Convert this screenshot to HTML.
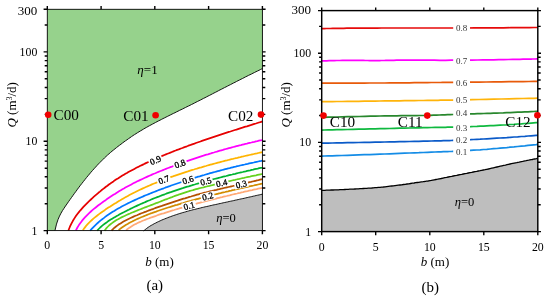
<!DOCTYPE html><html><head><meta charset="utf-8"><style>html,body{margin:0;padding:0;background:#fff}svg{display:block}</style></head><body><svg width="550" height="299" viewBox="0 0 550 299" font-family="'Liberation Serif', serif">
<rect width="550" height="299" fill="#fff"/>
<path d="M55.0 230.4 L56.5 224.1 L58.0 219.6 L59.5 216.1 L61.0 213.2 L62.5 210.6 L64.0 208.3 L65.5 206.0 L67.0 203.9 L68.5 201.7 L70.0 199.6 L71.5 197.5 L73.0 195.4 L74.5 193.3 L76.0 191.3 L77.5 189.2 L79.0 187.2 L80.5 185.2 L82.0 183.3 L83.5 181.4 L85.0 179.5 L86.5 177.6 L88.0 175.8 L89.5 174.0 L91.0 172.2 L92.5 170.5 L94.0 168.8 L95.5 167.2 L97.0 165.5 L98.5 163.9 L100.0 162.4 L101.5 160.9 L103.0 159.4 L104.5 157.9 L106.0 156.5 L107.5 155.1 L109.0 153.8 L110.5 152.5 L112.0 151.2 L113.5 150.0 L115.0 148.8 L116.5 147.6 L118.0 146.4 L119.5 145.3 L121.0 144.2 L122.5 143.0 L124.0 141.9 L125.5 140.8 L127.0 139.8 L128.5 138.7 L130.0 137.7 L131.5 136.6 L133.0 135.6 L134.5 134.6 L136.0 133.7 L137.5 132.7 L139.0 131.8 L140.5 130.9 L142.0 130.0 L143.5 129.1 L145.0 128.2 L146.5 127.4 L148.0 126.5 L149.5 125.7 L151.0 124.9 L152.5 124.1 L154.0 123.3 L155.5 122.5 L157.0 121.7 L158.5 120.9 L160.0 120.2 L161.5 119.4 L163.0 118.6 L164.5 117.9 L166.0 117.1 L167.5 116.4 L169.0 115.6 L170.5 114.9 L172.0 114.1 L173.5 113.4 L175.0 112.7 L176.5 111.9 L178.0 111.2 L179.5 110.4 L181.0 109.7 L182.5 109.0 L184.0 108.2 L185.5 107.5 L187.0 106.7 L188.5 106.0 L190.0 105.3 L191.5 104.5 L193.0 103.8 L194.5 103.0 L196.0 102.2 L197.5 101.5 L199.0 100.7 L200.5 100.0 L202.0 99.2 L203.5 98.4 L205.0 97.7 L206.5 96.9 L208.0 96.1 L209.5 95.4 L211.0 94.6 L212.5 93.8 L214.0 93.0 L215.5 92.3 L217.0 91.5 L218.5 90.7 L220.0 89.9 L221.5 89.2 L223.0 88.4 L224.5 87.6 L226.0 86.9 L227.5 86.1 L229.0 85.3 L230.5 84.6 L232.0 83.8 L233.5 83.0 L235.0 82.3 L236.5 81.5 L238.0 80.7 L239.5 80.0 L241.0 79.2 L242.5 78.5 L244.0 77.7 L245.5 76.9 L247.0 76.2 L248.5 75.4 L250.0 74.7 L251.5 74.0 L253.0 73.2 L254.5 72.5 L256.0 71.7 L257.5 71.0 L259.0 70.3 L260.5 69.5 L262.0 68.8 L262.4 68.6 L262.4 9.3 L47.3 9.3 L47.3 230.6 Z" fill="#96d28c"/>
<path d="M143.7 230.9 L145.2 229.6 L146.7 228.4 L148.2 227.3 L149.7 226.3 L151.2 225.4 L152.7 224.6 L154.2 223.7 L155.7 223.0 L157.2 222.2 L158.7 221.5 L160.2 220.8 L161.7 220.1 L163.2 219.5 L164.7 218.9 L166.2 218.3 L167.7 217.7 L169.2 217.1 L170.7 216.6 L172.2 216.0 L173.7 215.5 L175.2 215.0 L176.7 214.5 L178.2 214.0 L179.7 213.5 L181.2 213.1 L182.7 212.6 L184.2 212.2 L185.7 211.8 L187.2 211.3 L188.7 210.9 L190.2 210.5 L191.7 210.1 L193.2 209.7 L194.7 209.4 L196.2 209.0 L197.7 208.6 L199.2 208.3 L200.7 207.9 L202.2 207.5 L203.7 207.2 L205.2 206.8 L206.7 206.5 L208.2 206.2 L209.7 205.8 L211.2 205.5 L212.7 205.1 L214.2 204.8 L215.7 204.5 L217.2 204.2 L218.7 203.8 L220.2 203.5 L221.7 203.2 L223.2 202.8 L224.7 202.5 L226.2 202.2 L227.7 201.9 L229.2 201.5 L230.7 201.2 L232.2 200.9 L233.7 200.6 L235.2 200.2 L236.7 199.9 L238.2 199.6 L239.7 199.2 L241.2 198.9 L242.7 198.6 L244.2 198.3 L245.7 197.9 L247.2 197.6 L248.7 197.2 L250.2 196.9 L251.7 196.6 L253.2 196.2 L254.7 195.9 L256.2 195.5 L257.7 195.2 L259.2 194.9 L260.7 194.5 L262.2 194.2 L262.5 194.1 L262.4 230.6 Z" fill="#bebebe"/>
<path d="M68.4 230.5 L69.9 226.7 L71.4 223.6 L72.9 220.8 L74.4 218.4 L75.9 216.1 L77.4 214.0 L78.9 212.1 L80.4 210.3 L81.9 208.6 L83.4 206.9 L84.9 205.3 L86.4 203.8 L87.9 202.3 L89.4 200.9 L90.9 199.5 L92.4 198.1 L93.9 196.7 L95.4 195.4 L96.9 194.1 L98.4 192.8 L99.9 191.6 L101.4 190.3 L102.9 189.1 L104.4 188.0 L105.9 186.8 L107.4 185.7 L108.9 184.5 L110.4 183.5 L111.9 182.4 L113.4 181.4 L114.9 180.3 L116.4 179.3 L117.9 178.4 L119.4 177.4 L120.9 176.5 L122.4 175.6 L123.9 174.7 L125.4 173.8 L126.9 173.0 L128.4 172.1 L129.9 171.3 L131.4 170.5 L132.9 169.7 L134.4 168.9 L135.9 168.1 L137.4 167.3 L138.9 166.6 L140.4 165.8 L141.9 165.1 L143.4 164.4 L144.9 163.6 L146.4 162.9 L147.9 162.2 L149.4 161.5 L150.9 160.8 L152.4 160.2 L153.9 159.5 L155.4 158.8 L156.9 158.2 L158.4 157.5 L159.9 156.9 L161.4 156.3 L162.9 155.6 L164.4 155.0 L165.9 154.4 L167.4 153.8 L168.9 153.2 L170.4 152.6 L171.9 152.0 L173.4 151.4 L174.9 150.8 L176.4 150.2 L177.9 149.7 L179.4 149.1 L180.9 148.5 L182.4 148.0 L183.9 147.4 L185.4 146.8 L186.9 146.3 L188.4 145.7 L189.9 145.2 L191.4 144.6 L192.9 144.1 L194.4 143.6 L195.9 143.0 L197.4 142.5 L198.9 142.0 L200.4 141.5 L201.9 140.9 L203.4 140.4 L204.9 139.9 L206.4 139.4 L207.9 138.9 L209.4 138.4 L210.9 137.9 L212.4 137.4 L213.9 136.9 L215.4 136.4 L216.9 135.9 L218.4 135.4 L219.9 134.9 L221.4 134.4 L222.9 133.9 L224.4 133.4 L225.9 132.9 L227.4 132.4 L228.9 131.9 L230.4 131.5 L231.9 131.0 L233.4 130.5 L234.9 130.0 L236.4 129.6 L237.9 129.1 L239.4 128.6 L240.9 128.1 L242.4 127.7 L243.9 127.2 L245.4 126.7 L246.9 126.3 L248.4 125.8 L249.9 125.3 L251.4 124.9 L252.9 124.4 L254.4 123.9 L255.9 123.5 L257.4 123.0 L258.9 122.5 L260.4 122.1 L261.9 121.6 L262.5 121.4" fill="none" stroke="#e60000" stroke-width="1.75" stroke-linejoin="round"/>
<path d="M75.9 230.4 L77.4 227.5 L78.9 225.1 L80.4 222.9 L81.9 220.9 L83.4 219.1 L84.9 217.4 L86.4 215.8 L87.9 214.3 L89.4 212.9 L90.9 211.5 L92.4 210.2 L93.9 208.9 L95.4 207.7 L96.9 206.5 L98.4 205.3 L99.9 204.2 L101.4 203.1 L102.9 202.0 L104.4 200.9 L105.9 199.9 L107.4 198.8 L108.9 197.8 L110.4 196.8 L111.9 195.8 L113.4 194.8 L114.9 193.9 L116.4 192.9 L117.9 192.0 L119.4 191.1 L120.9 190.2 L122.4 189.3 L123.9 188.5 L125.4 187.6 L126.9 186.8 L128.4 186.0 L129.9 185.2 L131.4 184.4 L132.9 183.6 L134.4 182.8 L135.9 182.1 L137.4 181.3 L138.9 180.6 L140.4 179.9 L141.9 179.2 L143.4 178.5 L144.9 177.8 L146.4 177.1 L147.9 176.4 L149.4 175.7 L150.9 175.1 L152.4 174.4 L153.9 173.8 L155.4 173.2 L156.9 172.5 L158.4 171.9 L159.9 171.3 L161.4 170.7 L162.9 170.1 L164.4 169.5 L165.9 168.9 L167.4 168.3 L168.9 167.7 L170.4 167.1 L171.9 166.6 L173.4 166.0 L174.9 165.4 L176.4 164.9 L177.9 164.3 L179.4 163.8 L180.9 163.2 L182.4 162.7 L183.9 162.2 L185.4 161.6 L186.9 161.1 L188.4 160.6 L189.9 160.1 L191.4 159.6 L192.9 159.1 L194.4 158.6 L195.9 158.1 L197.4 157.6 L198.9 157.1 L200.4 156.6 L201.9 156.1 L203.4 155.7 L204.9 155.2 L206.4 154.7 L207.9 154.3 L209.4 153.8 L210.9 153.4 L212.4 152.9 L213.9 152.5 L215.4 152.0 L216.9 151.6 L218.4 151.1 L219.9 150.7 L221.4 150.3 L222.9 149.9 L224.4 149.4 L225.9 149.0 L227.4 148.6 L228.9 148.2 L230.4 147.8 L231.9 147.4 L233.4 147.0 L234.9 146.6 L236.4 146.2 L237.9 145.8 L239.4 145.4 L240.9 145.1 L242.4 144.7 L243.9 144.3 L245.4 143.9 L246.9 143.6 L248.4 143.2 L249.9 142.8 L251.4 142.5 L252.9 142.1 L254.4 141.8 L255.9 141.4 L257.4 141.1 L258.9 140.7 L260.4 140.4 L261.9 140.1 L262.5 139.9" fill="none" stroke="#ff00ff" stroke-width="1.75" stroke-linejoin="round"/>
<path d="M82.9 230.3 L84.4 228.1 L85.9 226.1 L87.4 224.4 L88.9 222.8 L90.4 221.4 L91.9 220.0 L93.4 218.6 L94.9 217.4 L96.4 216.2 L97.9 215.0 L99.4 213.9 L100.9 212.8 L102.4 211.7 L103.9 210.7 L105.4 209.6 L106.9 208.6 L108.4 207.6 L109.9 206.7 L111.4 205.7 L112.9 204.7 L114.4 203.8 L115.9 202.9 L117.4 201.9 L118.9 201.0 L120.4 200.2 L121.9 199.3 L123.4 198.4 L124.9 197.6 L126.4 196.7 L127.9 195.9 L129.4 195.1 L130.9 194.3 L132.4 193.5 L133.9 192.7 L135.4 192.0 L136.9 191.2 L138.4 190.5 L139.9 189.8 L141.4 189.1 L142.9 188.4 L144.4 187.7 L145.9 187.0 L147.4 186.4 L148.9 185.7 L150.4 185.1 L151.9 184.4 L153.4 183.8 L154.9 183.2 L156.4 182.6 L157.9 182.0 L159.4 181.4 L160.9 180.8 L162.4 180.2 L163.9 179.7 L165.4 179.1 L166.9 178.5 L168.4 178.0 L169.9 177.4 L171.4 176.9 L172.9 176.4 L174.4 175.8 L175.9 175.3 L177.4 174.8 L178.9 174.3 L180.4 173.8 L181.9 173.3 L183.4 172.8 L184.9 172.3 L186.4 171.8 L187.9 171.4 L189.4 170.9 L190.9 170.4 L192.4 169.9 L193.9 169.5 L195.4 169.0 L196.9 168.6 L198.4 168.1 L199.9 167.7 L201.4 167.3 L202.9 166.8 L204.4 166.4 L205.9 166.0 L207.4 165.5 L208.9 165.1 L210.4 164.7 L211.9 164.3 L213.4 163.9 L214.9 163.5 L216.4 163.1 L217.9 162.7 L219.4 162.3 L220.9 161.9 L222.4 161.5 L223.9 161.1 L225.4 160.7 L226.9 160.4 L228.4 160.0 L229.9 159.6 L231.4 159.2 L232.9 158.9 L234.4 158.5 L235.9 158.1 L237.4 157.8 L238.9 157.4 L240.4 157.1 L241.9 156.7 L243.4 156.4 L244.9 156.0 L246.4 155.7 L247.9 155.3 L249.4 155.0 L250.9 154.7 L252.4 154.3 L253.9 154.0 L255.4 153.7 L256.9 153.4 L258.4 153.0 L259.9 152.7 L261.4 152.4 L262.5 152.2" fill="none" stroke="#ffb400" stroke-width="1.75" stroke-linejoin="round"/>
<path d="M90.2 230.6 L91.7 228.9 L93.2 227.3 L94.7 225.8 L96.2 224.4 L97.7 223.0 L99.2 221.7 L100.7 220.4 L102.2 219.2 L103.7 218.1 L105.2 216.9 L106.7 215.8 L108.2 214.8 L109.7 213.8 L111.2 212.8 L112.7 211.8 L114.2 210.9 L115.7 209.9 L117.2 209.1 L118.7 208.2 L120.2 207.4 L121.7 206.5 L123.2 205.7 L124.7 205.0 L126.2 204.2 L127.7 203.4 L129.2 202.7 L130.7 202.0 L132.2 201.3 L133.7 200.6 L135.2 199.9 L136.7 199.2 L138.2 198.5 L139.7 197.9 L141.2 197.2 L142.7 196.6 L144.2 195.9 L145.7 195.3 L147.2 194.7 L148.7 194.1 L150.2 193.5 L151.7 192.9 L153.2 192.3 L154.7 191.7 L156.2 191.1 L157.7 190.5 L159.2 189.9 L160.7 189.4 L162.2 188.8 L163.7 188.3 L165.2 187.7 L166.7 187.2 L168.2 186.6 L169.7 186.1 L171.2 185.5 L172.7 185.0 L174.2 184.5 L175.7 184.0 L177.2 183.5 L178.7 183.0 L180.2 182.5 L181.7 182.0 L183.2 181.5 L184.7 181.0 L186.2 180.5 L187.7 180.0 L189.2 179.5 L190.7 179.0 L192.2 178.6 L193.7 178.1 L195.2 177.6 L196.7 177.2 L198.2 176.7 L199.7 176.3 L201.2 175.8 L202.7 175.4 L204.2 175.0 L205.7 174.5 L207.2 174.1 L208.7 173.7 L210.2 173.2 L211.7 172.8 L213.2 172.4 L214.7 172.0 L216.2 171.6 L217.7 171.2 L219.2 170.8 L220.7 170.4 L222.2 170.0 L223.7 169.6 L225.2 169.2 L226.7 168.8 L228.2 168.4 L229.7 168.1 L231.2 167.7 L232.7 167.3 L234.2 166.9 L235.7 166.6 L237.2 166.2 L238.7 165.9 L240.2 165.5 L241.7 165.2 L243.2 164.8 L244.7 164.5 L246.2 164.1 L247.7 163.8 L249.2 163.4 L250.7 163.1 L252.2 162.8 L253.7 162.5 L255.2 162.1 L256.7 161.8 L258.2 161.5 L259.7 161.2 L261.2 160.9 L262.5 160.6" fill="none" stroke="#0078ff" stroke-width="1.75" stroke-linejoin="round"/>
<path d="M97.2 230.7 L98.7 229.0 L100.2 227.5 L101.7 226.2 L103.2 224.9 L104.7 223.8 L106.2 222.7 L107.7 221.6 L109.2 220.6 L110.7 219.6 L112.2 218.7 L113.7 217.8 L115.2 216.9 L116.7 216.0 L118.2 215.2 L119.7 214.3 L121.2 213.5 L122.7 212.7 L124.2 212.0 L125.7 211.2 L127.2 210.4 L128.7 209.7 L130.2 208.9 L131.7 208.2 L133.2 207.5 L134.7 206.8 L136.2 206.1 L137.7 205.4 L139.2 204.7 L140.7 204.0 L142.2 203.4 L143.7 202.7 L145.2 202.1 L146.7 201.4 L148.2 200.8 L149.7 200.2 L151.2 199.5 L152.7 198.9 L154.2 198.3 L155.7 197.7 L157.2 197.1 L158.7 196.6 L160.2 196.0 L161.7 195.4 L163.2 194.8 L164.7 194.3 L166.2 193.7 L167.7 193.2 L169.2 192.7 L170.7 192.2 L172.2 191.6 L173.7 191.1 L175.2 190.6 L176.7 190.1 L178.2 189.6 L179.7 189.1 L181.2 188.6 L182.7 188.2 L184.2 187.7 L185.7 187.2 L187.2 186.7 L188.7 186.3 L190.2 185.8 L191.7 185.4 L193.2 184.9 L194.7 184.5 L196.2 184.0 L197.7 183.6 L199.2 183.2 L200.7 182.7 L202.2 182.3 L203.7 181.9 L205.2 181.5 L206.7 181.1 L208.2 180.7 L209.7 180.3 L211.2 179.8 L212.7 179.4 L214.2 179.0 L215.7 178.7 L217.2 178.3 L218.7 177.9 L220.2 177.5 L221.7 177.1 L223.2 176.7 L224.7 176.3 L226.2 176.0 L227.7 175.6 L229.2 175.2 L230.7 174.8 L232.2 174.5 L233.7 174.1 L235.2 173.8 L236.7 173.4 L238.2 173.0 L239.7 172.7 L241.2 172.3 L242.7 172.0 L244.2 171.6 L245.7 171.3 L247.2 170.9 L248.7 170.6 L250.2 170.3 L251.7 169.9 L253.2 169.6 L254.7 169.2 L256.2 168.9 L257.7 168.6 L259.2 168.2 L260.7 167.9 L262.2 167.6 L262.5 167.5" fill="none" stroke="#00b432" stroke-width="1.75" stroke-linejoin="round"/>
<path d="M104.5 230.7 L106.0 228.7 L107.5 227.0 L109.0 225.5 L110.5 224.3 L112.0 223.1 L113.5 222.0 L115.0 221.0 L116.5 220.1 L118.0 219.3 L119.5 218.4 L121.0 217.6 L122.5 216.9 L124.0 216.2 L125.5 215.5 L127.0 214.8 L128.5 214.1 L130.0 213.5 L131.5 212.8 L133.0 212.2 L134.5 211.6 L136.0 211.0 L137.5 210.4 L139.0 209.8 L140.5 209.2 L142.0 208.6 L143.5 208.0 L145.0 207.4 L146.5 206.9 L148.0 206.3 L149.5 205.7 L151.0 205.1 L152.5 204.6 L154.0 204.0 L155.5 203.4 L157.0 202.8 L158.5 202.3 L160.0 201.7 L161.5 201.1 L163.0 200.5 L164.5 199.9 L166.0 199.3 L167.5 198.8 L169.0 198.2 L170.5 197.6 L172.0 197.1 L173.5 196.5 L175.0 195.9 L176.5 195.4 L178.0 194.9 L179.5 194.3 L181.0 193.8 L182.5 193.3 L184.0 192.8 L185.5 192.3 L187.0 191.8 L188.5 191.4 L190.0 190.9 L191.5 190.5 L193.0 190.1 L194.5 189.6 L196.0 189.2 L197.5 188.8 L199.0 188.4 L200.5 188.0 L202.0 187.6 L203.5 187.3 L205.0 186.9 L206.5 186.5 L208.0 186.1 L209.5 185.8 L211.0 185.4 L212.5 185.1 L214.0 184.7 L215.5 184.3 L217.0 184.0 L218.5 183.6 L220.0 183.3 L221.5 182.9 L223.0 182.6 L224.5 182.2 L226.0 181.9 L227.5 181.6 L229.0 181.2 L230.5 180.9 L232.0 180.5 L233.5 180.2 L235.0 179.9 L236.5 179.5 L238.0 179.2 L239.5 178.9 L241.0 178.5 L242.5 178.2 L244.0 177.9 L245.5 177.5 L247.0 177.2 L248.5 176.9 L250.0 176.6 L251.5 176.2 L253.0 175.9 L254.5 175.6 L256.0 175.3 L257.5 174.9 L259.0 174.6 L260.5 174.3 L262.0 174.0 L262.5 173.9" fill="none" stroke="#64d21e" stroke-width="1.75" stroke-linejoin="round"/>
<path d="M111.5 230.6 L113.0 229.1 L114.5 227.7 L116.0 226.5 L117.5 225.4 L119.0 224.3 L120.5 223.4 L122.0 222.5 L123.5 221.6 L125.0 220.8 L126.5 220.0 L128.0 219.2 L129.5 218.5 L131.0 217.8 L132.5 217.1 L134.0 216.4 L135.5 215.8 L137.0 215.2 L138.5 214.5 L140.0 213.9 L141.5 213.3 L143.0 212.7 L144.5 212.1 L146.0 211.6 L147.5 211.0 L149.0 210.4 L150.5 209.9 L152.0 209.3 L153.5 208.8 L155.0 208.2 L156.5 207.7 L158.0 207.2 L159.5 206.7 L161.0 206.2 L162.5 205.6 L164.0 205.1 L165.5 204.6 L167.0 204.1 L168.5 203.6 L170.0 203.1 L171.5 202.6 L173.0 202.1 L174.5 201.6 L176.0 201.1 L177.5 200.7 L179.0 200.2 L180.5 199.7 L182.0 199.2 L183.5 198.7 L185.0 198.3 L186.5 197.8 L188.0 197.4 L189.5 196.9 L191.0 196.5 L192.5 196.0 L194.0 195.6 L195.5 195.2 L197.0 194.7 L198.5 194.3 L200.0 193.9 L201.5 193.5 L203.0 193.1 L204.5 192.7 L206.0 192.4 L207.5 192.0 L209.0 191.6 L210.5 191.2 L212.0 190.9 L213.5 190.5 L215.0 190.1 L216.5 189.8 L218.0 189.4 L219.5 189.1 L221.0 188.7 L222.5 188.4 L224.0 188.0 L225.5 187.7 L227.0 187.3 L228.5 187.0 L230.0 186.7 L231.5 186.3 L233.0 186.0 L234.5 185.7 L236.0 185.3 L237.5 185.0 L239.0 184.6 L240.5 184.3 L242.0 184.0 L243.5 183.6 L245.0 183.3 L246.5 182.9 L248.0 182.6 L249.5 182.2 L251.0 181.9 L252.5 181.5 L254.0 181.2 L255.5 180.8 L257.0 180.4 L258.5 180.1 L260.0 179.7 L261.5 179.3 L262.5 179.1" fill="none" stroke="#b45000" stroke-width="1.75" stroke-linejoin="round"/>
<path d="M118.6 230.2 L120.1 228.9 L121.6 227.7 L123.1 226.7 L124.6 225.7 L126.1 224.7 L127.6 223.9 L129.1 223.0 L130.6 222.2 L132.1 221.5 L133.6 220.7 L135.1 220.0 L136.6 219.3 L138.1 218.6 L139.6 218.0 L141.1 217.3 L142.6 216.7 L144.1 216.1 L145.6 215.5 L147.1 214.9 L148.6 214.3 L150.1 213.7 L151.6 213.2 L153.1 212.6 L154.6 212.1 L156.1 211.6 L157.6 211.0 L159.1 210.5 L160.6 210.0 L162.1 209.5 L163.6 209.0 L165.1 208.5 L166.6 208.0 L168.1 207.5 L169.6 207.1 L171.1 206.6 L172.6 206.1 L174.1 205.7 L175.6 205.2 L177.1 204.8 L178.6 204.3 L180.1 203.9 L181.6 203.4 L183.1 203.0 L184.6 202.5 L186.1 202.1 L187.6 201.7 L189.1 201.3 L190.6 200.9 L192.1 200.4 L193.6 200.0 L195.1 199.6 L196.6 199.2 L198.1 198.8 L199.6 198.4 L201.1 198.0 L202.6 197.6 L204.1 197.2 L205.6 196.8 L207.1 196.4 L208.6 196.1 L210.1 195.7 L211.6 195.3 L213.1 194.9 L214.6 194.5 L216.1 194.2 L217.6 193.8 L219.1 193.4 L220.6 193.1 L222.1 192.7 L223.6 192.3 L225.1 192.0 L226.6 191.6 L228.1 191.3 L229.6 190.9 L231.1 190.6 L232.6 190.2 L234.1 189.9 L235.6 189.5 L237.1 189.2 L238.6 188.8 L240.1 188.5 L241.6 188.1 L243.1 187.8 L244.6 187.5 L246.1 187.1 L247.6 186.8 L249.1 186.4 L250.6 186.1 L252.1 185.8 L253.6 185.5 L255.1 185.1 L256.6 184.8 L258.1 184.5 L259.6 184.2 L261.1 183.8 L262.5 183.5" fill="none" stroke="#d28c00" stroke-width="1.75" stroke-linejoin="round"/>
<path d="M126.1 230.4 L127.6 229.0 L129.1 227.9 L130.6 226.9 L132.1 226.0 L133.6 225.1 L135.1 224.3 L136.6 223.6 L138.1 222.8 L139.6 222.1 L141.1 221.5 L142.6 220.8 L144.1 220.2 L145.6 219.6 L147.1 219.0 L148.6 218.5 L150.1 217.9 L151.6 217.3 L153.1 216.8 L154.6 216.3 L156.1 215.8 L157.6 215.2 L159.1 214.7 L160.6 214.2 L162.1 213.7 L163.6 213.3 L165.1 212.8 L166.6 212.3 L168.1 211.8 L169.6 211.4 L171.1 210.9 L172.6 210.4 L174.1 210.0 L175.6 209.5 L177.1 209.1 L178.6 208.7 L180.1 208.2 L181.6 207.8 L183.1 207.4 L184.6 206.9 L186.1 206.5 L187.6 206.1 L189.1 205.7 L190.6 205.2 L192.1 204.8 L193.6 204.4 L195.1 204.0 L196.6 203.6 L198.1 203.2 L199.6 202.8 L201.1 202.4 L202.6 202.0 L204.1 201.6 L205.6 201.2 L207.1 200.8 L208.6 200.5 L210.1 200.1 L211.6 199.7 L213.1 199.3 L214.6 198.9 L216.1 198.6 L217.6 198.2 L219.1 197.8 L220.6 197.4 L222.1 197.1 L223.6 196.7 L225.1 196.3 L226.6 196.0 L228.1 195.6 L229.6 195.3 L231.1 194.9 L232.6 194.5 L234.1 194.2 L235.6 193.8 L237.1 193.5 L238.6 193.1 L240.1 192.8 L241.6 192.4 L243.1 192.1 L244.6 191.7 L246.1 191.4 L247.6 191.1 L249.1 190.7 L250.6 190.4 L252.1 190.1 L253.6 189.7 L255.1 189.4 L256.6 189.1 L258.1 188.7 L259.6 188.4 L261.1 188.1 L262.5 187.8" fill="none" stroke="#ffaa78" stroke-width="1.75" stroke-linejoin="round"/>
<path d="M55.0 230.4 L56.5 224.1 L58.0 219.6 L59.5 216.1 L61.0 213.2 L62.5 210.6 L64.0 208.3 L65.5 206.0 L67.0 203.9 L68.5 201.7 L70.0 199.6 L71.5 197.5 L73.0 195.4 L74.5 193.3 L76.0 191.3 L77.5 189.2 L79.0 187.2 L80.5 185.2 L82.0 183.3 L83.5 181.4 L85.0 179.5 L86.5 177.6 L88.0 175.8 L89.5 174.0 L91.0 172.2 L92.5 170.5 L94.0 168.8 L95.5 167.2 L97.0 165.5 L98.5 163.9 L100.0 162.4 L101.5 160.9 L103.0 159.4 L104.5 157.9 L106.0 156.5 L107.5 155.1 L109.0 153.8 L110.5 152.5 L112.0 151.2 L113.5 150.0 L115.0 148.8 L116.5 147.6 L118.0 146.4 L119.5 145.3 L121.0 144.2 L122.5 143.0 L124.0 141.9 L125.5 140.8 L127.0 139.8 L128.5 138.7 L130.0 137.7 L131.5 136.6 L133.0 135.6 L134.5 134.6 L136.0 133.7 L137.5 132.7 L139.0 131.8 L140.5 130.9 L142.0 130.0 L143.5 129.1 L145.0 128.2 L146.5 127.4 L148.0 126.5 L149.5 125.7 L151.0 124.9 L152.5 124.1 L154.0 123.3 L155.5 122.5 L157.0 121.7 L158.5 120.9 L160.0 120.2 L161.5 119.4 L163.0 118.6 L164.5 117.9 L166.0 117.1 L167.5 116.4 L169.0 115.6 L170.5 114.9 L172.0 114.1 L173.5 113.4 L175.0 112.7 L176.5 111.9 L178.0 111.2 L179.5 110.4 L181.0 109.7 L182.5 109.0 L184.0 108.2 L185.5 107.5 L187.0 106.7 L188.5 106.0 L190.0 105.3 L191.5 104.5 L193.0 103.8 L194.5 103.0 L196.0 102.2 L197.5 101.5 L199.0 100.7 L200.5 100.0 L202.0 99.2 L203.5 98.4 L205.0 97.7 L206.5 96.9 L208.0 96.1 L209.5 95.4 L211.0 94.6 L212.5 93.8 L214.0 93.0 L215.5 92.3 L217.0 91.5 L218.5 90.7 L220.0 89.9 L221.5 89.2 L223.0 88.4 L224.5 87.6 L226.0 86.9 L227.5 86.1 L229.0 85.3 L230.5 84.6 L232.0 83.8 L233.5 83.0 L235.0 82.3 L236.5 81.5 L238.0 80.7 L239.5 80.0 L241.0 79.2 L242.5 78.5 L244.0 77.7 L245.5 76.9 L247.0 76.2 L248.5 75.4 L250.0 74.7 L251.5 74.0 L253.0 73.2 L254.5 72.5 L256.0 71.7 L257.5 71.0 L259.0 70.3 L260.5 69.5 L262.0 68.8 L262.4 68.6" fill="none" stroke="#000" stroke-width="0.9"/>
<path d="M143.7 230.9 L145.2 229.6 L146.7 228.4 L148.2 227.3 L149.7 226.3 L151.2 225.4 L152.7 224.6 L154.2 223.7 L155.7 223.0 L157.2 222.2 L158.7 221.5 L160.2 220.8 L161.7 220.1 L163.2 219.5 L164.7 218.9 L166.2 218.3 L167.7 217.7 L169.2 217.1 L170.7 216.6 L172.2 216.0 L173.7 215.5 L175.2 215.0 L176.7 214.5 L178.2 214.0 L179.7 213.5 L181.2 213.1 L182.7 212.6 L184.2 212.2 L185.7 211.8 L187.2 211.3 L188.7 210.9 L190.2 210.5 L191.7 210.1 L193.2 209.7 L194.7 209.4 L196.2 209.0 L197.7 208.6 L199.2 208.3 L200.7 207.9 L202.2 207.5 L203.7 207.2 L205.2 206.8 L206.7 206.5 L208.2 206.2 L209.7 205.8 L211.2 205.5 L212.7 205.1 L214.2 204.8 L215.7 204.5 L217.2 204.2 L218.7 203.8 L220.2 203.5 L221.7 203.2 L223.2 202.8 L224.7 202.5 L226.2 202.2 L227.7 201.9 L229.2 201.5 L230.7 201.2 L232.2 200.9 L233.7 200.6 L235.2 200.2 L236.7 199.9 L238.2 199.6 L239.7 199.2 L241.2 198.9 L242.7 198.6 L244.2 198.3 L245.7 197.9 L247.2 197.6 L248.7 197.2 L250.2 196.9 L251.7 196.6 L253.2 196.2 L254.7 195.9 L256.2 195.5 L257.7 195.2 L259.2 194.9 L260.7 194.5 L262.2 194.2 L262.5 194.1" fill="none" stroke="#000" stroke-width="0.9"/>
<g transform="translate(155.4 160.1) rotate(-23.8)"><rect x="-7" y="-4" width="14" height="8" fill="#fff"/><text x="0" y="3.1" font-size="9" text-anchor="middle" fill="#000" stroke="#000" stroke-width="0.3">0.9</text></g>
<g transform="translate(180.0 163.6) rotate(-19.8)"><rect x="-7" y="-4" width="14" height="8" fill="#fff"/><text x="0" y="3.1" font-size="9" text-anchor="middle" fill="#000" stroke="#000" stroke-width="0.3">0.8</text></g>
<g transform="translate(163.8 179.7) rotate(-20.9)"><rect x="-7" y="-4" width="14" height="8" fill="#fff"/><text x="0" y="3.1" font-size="9" text-anchor="middle" fill="#000" stroke="#000" stroke-width="0.3">0.7</text></g>
<g transform="translate(188.0 179.9) rotate(-17.7)"><rect x="-7" y="-4" width="14" height="8" fill="#fff"/><text x="0" y="3.1" font-size="9" text-anchor="middle" fill="#000" stroke="#000" stroke-width="0.3">0.6</text></g>
<g transform="translate(205.8 181.3) rotate(-15.4)"><rect x="-7" y="-4" width="14" height="8" fill="#fff"/><text x="0" y="3.1" font-size="9" text-anchor="middle" fill="#000" stroke="#000" stroke-width="0.3">0.5</text></g>
<g transform="translate(221.6 182.9) rotate(-13.0)"><rect x="-7" y="-4" width="14" height="8" fill="#fff"/><text x="0" y="3.1" font-size="9" text-anchor="middle" fill="#000" stroke="#000" stroke-width="0.3">0.4</text></g>
<g transform="translate(241.2 184.1) rotate(-12.8)"><rect x="-7" y="-4" width="14" height="8" fill="#fff"/><text x="0" y="3.1" font-size="9" text-anchor="middle" fill="#000" stroke="#000" stroke-width="0.3">0.3</text></g>
<g transform="translate(207.6 196.3) rotate(-14.4)"><rect x="-7" y="-4" width="14" height="8" fill="#fff"/><text x="0" y="3.1" font-size="9" text-anchor="middle" fill="#000" stroke="#000" stroke-width="0.3">0.2</text></g>
<g transform="translate(189.0 205.7) rotate(-15.6)"><rect x="-7" y="-4" width="14" height="8" fill="#fff"/><text x="0" y="3.1" font-size="9" text-anchor="middle" fill="#000" stroke="#000" stroke-width="0.3">0.1</text></g>
<path d="M321.7 190.4 L322.6 190.4 L323.7 190.3 L324.9 190.3 L326.4 190.2 L327.9 190.2 L329.6 190.1 L331.3 190.0 L333.1 190.0 L334.9 189.9 L336.6 189.8 L338.4 189.8 L340.0 189.7 L341.6 189.6 L343.2 189.6 L344.9 189.5 L346.5 189.4 L348.2 189.3 L349.9 189.2 L351.6 189.2 L353.3 189.1 L355.0 189.0 L356.6 188.9 L358.3 188.8 L360.0 188.7 L361.7 188.6 L363.3 188.5 L365.0 188.4 L366.7 188.3 L368.3 188.2 L370.0 188.1 L371.7 188.0 L373.3 187.8 L375.0 187.7 L376.7 187.6 L378.3 187.4 L380.0 187.3 L381.7 187.1 L383.3 187.0 L385.0 186.8 L386.7 186.6 L388.3 186.4 L390.0 186.2 L391.7 186.0 L393.3 185.8 L395.0 185.6 L396.7 185.4 L398.3 185.2 L400.0 185.0 L401.7 184.8 L403.4 184.5 L405.2 184.3 L407.0 184.0 L408.8 183.8 L410.6 183.5 L412.4 183.2 L414.1 183.0 L415.7 182.7 L417.2 182.5 L418.7 182.3 L420.0 182.1 L421.2 181.9 L422.1 181.8 L423.0 181.7 L423.7 181.6 L424.4 181.5 L425.0 181.4 L425.6 181.3 L426.3 181.2 L427.0 181.1 L427.9 181.0 L428.8 180.8 L430.0 180.6 L431.3 180.4 L432.8 180.1 L434.3 179.8 L435.9 179.5 L437.6 179.2 L439.4 178.8 L441.2 178.5 L443.0 178.1 L444.8 177.7 L446.6 177.4 L448.3 177.0 L450.0 176.7 L451.7 176.4 L453.3 176.0 L455.0 175.7 L456.7 175.4 L458.3 175.0 L460.0 174.7 L461.7 174.4 L463.3 174.0 L465.0 173.7 L466.7 173.4 L468.3 173.0 L470.0 172.7 L471.7 172.4 L473.3 172.0 L475.0 171.7 L476.7 171.4 L478.3 171.0 L480.0 170.7 L481.7 170.3 L483.3 170.0 L485.0 169.7 L486.7 169.3 L488.3 169.0 L490.0 168.6 L491.7 168.2 L493.4 167.8 L495.1 167.4 L496.9 167.0 L498.6 166.6 L500.3 166.2 L502.0 165.8 L503.7 165.4 L505.4 165.1 L507.0 164.7 L508.5 164.3 L510.0 164.0 L511.4 163.7 L512.8 163.4 L514.2 163.1 L515.5 162.8 L516.7 162.6 L517.9 162.3 L519.2 162.1 L520.3 161.8 L521.5 161.6 L522.7 161.4 L523.8 161.1 L525.0 160.9 L526.2 160.7 L527.4 160.4 L528.7 160.2 L529.9 159.9 L531.1 159.7 L532.3 159.5 L533.5 159.2 L534.6 159.0 L535.6 158.8 L536.4 158.7 L537.2 158.5 L537.8 158.4 L537.8 231.6 L321.7 231.6 Z" fill="#bebebe"/>
<path d="M321.7 28.6 L323.0 28.6 L324.5 28.6 L326.3 28.5 L328.2 28.5 L330.4 28.5 L332.7 28.4 L335.2 28.4 L337.9 28.3 L340.7 28.3 L343.7 28.3 L346.8 28.2 L350.0 28.2 L353.4 28.2 L356.9 28.2 L360.7 28.1 L364.6 28.1 L368.7 28.1 L372.9 28.1 L377.2 28.1 L381.7 28.0 L386.2 28.0 L390.7 28.0 L395.4 28.0 L400.0 28.0 L404.7 28.0 L409.4 28.0 L414.3 28.0 L419.2 28.0 L424.1 28.0 L429.2 28.0 L434.4 28.0 L439.6 28.0 L445.0 28.0 L450.4 28.0 L456.0 28.0 L461.7 28.0 L467.8 28.0 L474.4 27.9 L481.5 27.9 L488.8 27.9 L496.2 27.8 L503.6 27.8 L510.8 27.7 L517.5 27.6 L523.8 27.6 L529.4 27.6 L534.1 27.5 L537.8 27.5" fill="none" stroke="#e60a0a" stroke-width="1.7"/>
<rect x="453.2" y="24.0" width="16.8" height="8" fill="#fff"/>
<text x="461.7" y="31.3" font-size="9" text-anchor="middle" fill="#333">0.8</text>
<path d="M321.7 60.9 L323.1 60.9 L324.8 60.8 L326.8 60.8 L329.1 60.7 L331.6 60.6 L334.2 60.6 L336.9 60.5 L339.7 60.5 L342.4 60.4 L345.1 60.4 L347.6 60.3 L350.0 60.3 L352.3 60.3 L354.5 60.3 L356.7 60.3 L358.9 60.4 L361.1 60.4 L363.3 60.4 L365.4 60.5 L367.6 60.5 L369.7 60.6 L371.8 60.6 L373.9 60.6 L376.0 60.6 L378.0 60.6 L379.7 60.6 L381.3 60.5 L382.8 60.5 L384.2 60.5 L385.8 60.4 L387.4 60.4 L389.3 60.3 L391.4 60.3 L393.8 60.3 L396.7 60.2 L400.0 60.2 L403.8 60.2 L408.1 60.2 L412.9 60.2 L417.9 60.2 L423.2 60.2 L428.7 60.2 L434.3 60.2 L440.0 60.3 L445.6 60.3 L451.2 60.2 L456.6 60.2 L461.7 60.2 L466.8 60.2 L472.1 60.1 L477.5 60.0 L482.9 59.9 L488.3 59.9 L493.6 59.8 L498.8 59.7 L503.7 59.6 L508.4 59.5 L512.7 59.4 L516.6 59.4 L520.0 59.3 L523.0 59.2 L525.5 59.2 L527.7 59.2 L529.6 59.1 L531.2 59.1 L532.5 59.0 L533.7 59.0 L534.7 59.0 L535.6 59.0 L536.3 58.9 L537.1 58.9 L537.8 58.9" fill="none" stroke="#ff00ff" stroke-width="1.7"/>
<rect x="453.2" y="56.2" width="16.8" height="8" fill="#fff"/>
<text x="461.7" y="64.3" font-size="9" text-anchor="middle" fill="#333">0.7</text>
<path d="M321.7 83.1 L324.5 83.1 L328.1 83.1 L332.3 83.1 L336.9 83.1 L342.0 83.1 L347.4 83.1 L353.0 83.1 L358.7 83.1 L364.3 83.1 L369.8 83.0 L375.1 83.0 L380.0 83.0 L384.8 83.0 L389.7 82.9 L394.6 82.9 L399.6 82.9 L404.6 82.8 L409.5 82.8 L414.3 82.7 L418.9 82.7 L423.3 82.6 L427.5 82.6 L431.4 82.5 L435.0 82.5 L438.1 82.5 L440.5 82.5 L442.5 82.4 L444.2 82.4 L445.6 82.4 L447.0 82.4 L448.5 82.4 L450.2 82.4 L452.2 82.4 L454.7 82.4 L457.8 82.3 L461.7 82.3 L466.6 82.2 L472.4 82.2 L479.0 82.1 L486.2 82.0 L493.8 81.9 L501.4 81.8 L509.0 81.7 L516.2 81.7 L523.0 81.6 L528.9 81.5 L534.0 81.4 L537.8 81.4" fill="none" stroke="#e85a0a" stroke-width="1.7"/>
<rect x="453.2" y="78.3" width="16.8" height="8" fill="#fff"/>
<text x="461.7" y="85.9" font-size="9" text-anchor="middle" fill="#333">0.6</text>
<path d="M321.7 101.7 L324.5 101.7 L328.1 101.6 L332.3 101.6 L336.9 101.5 L342.0 101.5 L347.4 101.4 L353.0 101.3 L358.7 101.3 L364.3 101.2 L369.8 101.1 L375.1 101.1 L380.0 101.0 L384.8 100.9 L389.7 100.9 L394.6 100.8 L399.6 100.8 L404.6 100.7 L409.5 100.6 L414.3 100.6 L418.9 100.5 L423.3 100.5 L427.5 100.4 L431.4 100.3 L435.0 100.3 L438.1 100.3 L440.5 100.2 L442.5 100.2 L444.2 100.2 L445.6 100.2 L447.0 100.2 L448.5 100.1 L450.2 100.1 L452.2 100.1 L454.7 100.0 L457.8 100.0 L461.7 99.9 L466.6 99.8 L472.4 99.7 L479.0 99.5 L486.2 99.4 L493.8 99.2 L501.4 99.0 L509.0 98.9 L516.2 98.7 L523.0 98.5 L528.9 98.4 L534.0 98.3 L537.8 98.2" fill="none" stroke="#ffb40a" stroke-width="1.7"/>
<rect x="453.2" y="95.9" width="16.8" height="8" fill="#fff"/>
<text x="461.7" y="102.9" font-size="9" text-anchor="middle" fill="#333">0.5</text>
<path d="M321.7 117.4 L324.6 117.3 L328.2 117.2 L332.4 117.1 L337.2 117.0 L342.4 116.9 L347.9 116.7 L353.6 116.6 L359.2 116.5 L364.9 116.3 L370.3 116.2 L375.4 116.1 L380.0 116.0 L384.4 115.9 L388.6 115.9 L392.8 115.8 L397.0 115.8 L401.0 115.7 L405.0 115.7 L408.9 115.7 L412.7 115.6 L416.4 115.6 L420.0 115.5 L423.5 115.5 L427.0 115.4 L430.3 115.3 L433.5 115.2 L436.5 115.1 L439.3 115.0 L442.1 114.9 L444.9 114.8 L447.6 114.7 L450.3 114.6 L453.1 114.5 L455.9 114.4 L458.7 114.3 L461.7 114.2 L464.8 114.1 L467.9 114.0 L471.0 113.9 L474.2 113.8 L477.4 113.7 L480.7 113.6 L483.9 113.5 L487.1 113.4 L490.4 113.3 L493.6 113.2 L496.8 113.1 L500.0 113.0 L503.3 112.9 L506.8 112.7 L510.4 112.6 L514.0 112.4 L517.7 112.2 L521.3 112.1 L524.8 111.9 L528.0 111.8 L531.0 111.6 L533.7 111.5 L536.0 111.4 L537.8 111.3" fill="none" stroke="#28872d" stroke-width="1.7"/>
<rect x="453.2" y="110.2" width="16.8" height="8" fill="#fff"/>
<text x="461.7" y="116.4" font-size="9" text-anchor="middle" fill="#333">0.4</text>
<path d="M321.7 130.1 L324.5 130.0 L328.1 129.9 L332.3 129.8 L336.9 129.7 L342.0 129.6 L347.4 129.5 L353.0 129.3 L358.7 129.2 L364.3 129.1 L369.8 128.9 L375.1 128.8 L380.0 128.7 L384.8 128.6 L389.7 128.5 L394.6 128.3 L399.6 128.2 L404.6 128.1 L409.5 128.0 L414.3 127.9 L418.9 127.8 L423.3 127.7 L427.5 127.6 L431.4 127.5 L435.0 127.4 L438.2 127.3 L441.0 127.3 L443.4 127.3 L445.6 127.3 L447.5 127.2 L449.4 127.2 L451.2 127.2 L453.0 127.2 L454.9 127.2 L456.9 127.1 L459.2 127.1 L461.7 127.0 L464.5 126.9 L467.4 126.8 L470.5 126.7 L473.6 126.5 L476.9 126.4 L480.2 126.2 L483.5 126.1 L486.8 125.9 L490.2 125.7 L493.5 125.6 L496.8 125.4 L500.0 125.2 L503.3 125.0 L506.8 124.8 L510.4 124.5 L514.0 124.3 L517.7 124.0 L521.3 123.8 L524.8 123.5 L528.0 123.3 L531.0 123.1 L533.7 122.9 L536.0 122.7 L537.8 122.6" fill="none" stroke="#0fb93f" stroke-width="1.7"/>
<rect x="453.2" y="123.0" width="16.8" height="8" fill="#fff"/>
<text x="461.7" y="130.8" font-size="9" text-anchor="middle" fill="#333">0.3</text>
<path d="M321.7 143.2 L324.5 143.1 L328.1 143.1 L332.3 143.0 L336.9 142.9 L342.0 142.8 L347.4 142.7 L353.0 142.6 L358.7 142.5 L364.3 142.4 L369.8 142.3 L375.1 142.2 L380.0 142.1 L384.8 142.0 L389.7 141.9 L394.6 141.8 L399.6 141.7 L404.6 141.6 L409.5 141.5 L414.3 141.4 L418.9 141.3 L423.3 141.2 L427.5 141.1 L431.4 141.0 L435.0 140.9 L438.2 140.8 L441.0 140.8 L443.4 140.7 L445.6 140.7 L447.5 140.6 L449.4 140.6 L451.2 140.5 L453.0 140.4 L454.9 140.4 L456.9 140.3 L459.2 140.2 L461.7 140.1 L464.5 140.0 L467.4 139.8 L470.5 139.7 L473.6 139.5 L476.9 139.3 L480.2 139.2 L483.5 139.0 L486.8 138.8 L490.2 138.6 L493.5 138.4 L496.8 138.2 L500.0 138.0 L503.3 137.8 L506.8 137.6 L510.4 137.3 L514.0 137.0 L517.7 136.8 L521.3 136.5 L524.8 136.3 L528.0 136.0 L531.0 135.8 L533.7 135.6 L536.0 135.4 L537.8 135.3" fill="none" stroke="#0a5ac8" stroke-width="1.7"/>
<rect x="453.2" y="136.1" width="16.8" height="8" fill="#fff"/>
<text x="461.7" y="143.1" font-size="9" text-anchor="middle" fill="#333">0.2</text>
<path d="M321.7 156.1 L324.5 156.0 L328.1 155.9 L332.3 155.8 L336.9 155.6 L342.0 155.5 L347.4 155.3 L353.0 155.1 L358.7 154.9 L364.3 154.7 L369.8 154.6 L375.1 154.4 L380.0 154.2 L384.8 154.0 L389.7 153.8 L394.6 153.6 L399.6 153.4 L404.6 153.2 L409.5 153.0 L414.3 152.8 L418.9 152.7 L423.3 152.5 L427.5 152.3 L431.4 152.1 L435.0 152.0 L438.2 151.9 L441.0 151.8 L443.4 151.7 L445.6 151.6 L447.5 151.6 L449.4 151.5 L451.2 151.5 L453.0 151.4 L454.9 151.3 L456.9 151.3 L459.2 151.1 L461.7 151.0 L464.5 150.8 L467.4 150.6 L470.5 150.4 L473.6 150.2 L476.9 150.0 L480.2 149.8 L483.5 149.5 L486.8 149.3 L490.2 149.0 L493.5 148.7 L496.8 148.5 L500.0 148.2 L503.3 147.9 L506.8 147.6 L510.4 147.2 L514.0 146.9 L517.7 146.5 L521.3 146.1 L524.8 145.8 L528.0 145.4 L531.0 145.1 L533.7 144.8 L536.0 144.6 L537.8 144.4" fill="none" stroke="#148ce6" stroke-width="1.7"/>
<rect x="453.2" y="147.0" width="16.8" height="8" fill="#fff"/>
<text x="461.7" y="155.1" font-size="9" text-anchor="middle" fill="#333">0.1</text>
<path d="M321.7 190.4 L322.6 190.4 L323.7 190.3 L324.9 190.3 L326.4 190.2 L327.9 190.2 L329.6 190.1 L331.3 190.0 L333.1 190.0 L334.9 189.9 L336.6 189.8 L338.4 189.8 L340.0 189.7 L341.6 189.6 L343.2 189.6 L344.9 189.5 L346.5 189.4 L348.2 189.3 L349.9 189.2 L351.6 189.2 L353.3 189.1 L355.0 189.0 L356.6 188.9 L358.3 188.8 L360.0 188.7 L361.7 188.6 L363.3 188.5 L365.0 188.4 L366.7 188.3 L368.3 188.2 L370.0 188.1 L371.7 188.0 L373.3 187.8 L375.0 187.7 L376.7 187.6 L378.3 187.4 L380.0 187.3 L381.7 187.1 L383.3 187.0 L385.0 186.8 L386.7 186.6 L388.3 186.4 L390.0 186.2 L391.7 186.0 L393.3 185.8 L395.0 185.6 L396.7 185.4 L398.3 185.2 L400.0 185.0 L401.7 184.8 L403.4 184.5 L405.2 184.3 L407.0 184.0 L408.8 183.8 L410.6 183.5 L412.4 183.2 L414.1 183.0 L415.7 182.7 L417.2 182.5 L418.7 182.3 L420.0 182.1 L421.2 181.9 L422.1 181.8 L423.0 181.7 L423.7 181.6 L424.4 181.5 L425.0 181.4 L425.6 181.3 L426.3 181.2 L427.0 181.1 L427.9 181.0 L428.8 180.8 L430.0 180.6 L431.3 180.4 L432.8 180.1 L434.3 179.8 L435.9 179.5 L437.6 179.2 L439.4 178.8 L441.2 178.5 L443.0 178.1 L444.8 177.7 L446.6 177.4 L448.3 177.0 L450.0 176.7 L451.7 176.4 L453.3 176.0 L455.0 175.7 L456.7 175.4 L458.3 175.0 L460.0 174.7 L461.7 174.4 L463.3 174.0 L465.0 173.7 L466.7 173.4 L468.3 173.0 L470.0 172.7 L471.7 172.4 L473.3 172.0 L475.0 171.7 L476.7 171.4 L478.3 171.0 L480.0 170.7 L481.7 170.3 L483.3 170.0 L485.0 169.7 L486.7 169.3 L488.3 169.0 L490.0 168.6 L491.7 168.2 L493.4 167.8 L495.1 167.4 L496.9 167.0 L498.6 166.6 L500.3 166.2 L502.0 165.8 L503.7 165.4 L505.4 165.1 L507.0 164.7 L508.5 164.3 L510.0 164.0 L511.4 163.7 L512.8 163.4 L514.2 163.1 L515.5 162.8 L516.7 162.6 L517.9 162.3 L519.2 162.1 L520.3 161.8 L521.5 161.6 L522.7 161.4 L523.8 161.1 L525.0 160.9 L526.2 160.7 L527.4 160.4 L528.7 160.2 L529.9 159.9 L531.1 159.7 L532.3 159.5 L533.5 159.2 L534.6 159.0 L535.6 158.8 L536.4 158.7 L537.2 158.5 L537.8 158.4" fill="none" stroke="#000" stroke-width="1.3"/>
<rect x="47.3" y="9.3" width="215.1" height="221.3" fill="none" stroke="#000" stroke-width="0.90"/>
<path d="M47.3 230.6 v3.7 M47.3 9.3 v-3.2 M101.1 230.6 v3.7 M101.1 9.3 v-3.2 M154.8 230.6 v3.7 M154.8 9.3 v-3.2 M208.6 230.6 v3.7 M208.6 9.3 v-3.2 M262.4 230.6 v3.7 M262.4 9.3 v-3.2 M47.3 230.6 h-3.7 M262.4 230.6 h3.2 M47.3 203.7 h-2.6 M262.4 203.7 h2.9 M47.3 188.0 h-2.6 M262.4 188.0 h2.9 M47.3 176.8 h-2.6 M262.4 176.8 h2.9 M47.3 168.2 h-2.6 M262.4 168.2 h2.9 M47.3 161.1 h-2.6 M262.4 161.1 h2.9 M47.3 155.1 h-2.6 M262.4 155.1 h2.9 M47.3 149.9 h-2.6 M262.4 149.9 h2.9 M47.3 145.4 h-2.6 M262.4 145.4 h2.9 M47.3 141.3 h-3.7 M262.4 141.3 h3.2 M47.3 114.4 h-2.6 M262.4 114.4 h2.9 M47.3 98.6 h-2.6 M262.4 98.6 h2.9 M47.3 87.5 h-2.6 M262.4 87.5 h2.9 M47.3 78.8 h-2.6 M262.4 78.8 h2.9 M47.3 71.7 h-2.6 M262.4 71.7 h2.9 M47.3 65.8 h-2.6 M262.4 65.8 h2.9 M47.3 60.6 h-2.6 M262.4 60.6 h2.9 M47.3 56.0 h-2.6 M262.4 56.0 h2.9 M47.3 51.9 h-3.7 M262.4 51.9 h3.2 M47.3 25.0 h-2.6 M262.4 25.0 h2.9 M47.3 9.3 h-3.7 M262.4 9.3 h3.2" stroke="#000" stroke-width="1.40" fill="none"/>
<text x="37.3" y="234.5" font-size="11.8" text-anchor="end">1</text>
<text x="37.3" y="145.2" font-size="11.8" text-anchor="end">10</text>
<text x="37.3" y="55.8" font-size="11.8" text-anchor="end">100</text>
<text x="37.3" y="14.5" font-size="13.0" text-anchor="end">300</text>
<text x="47.3" y="248.6" font-size="11.8" text-anchor="middle">0</text>
<text x="101.1" y="248.6" font-size="11.8" text-anchor="middle">5</text>
<text x="154.8" y="248.6" font-size="11.8" text-anchor="middle">10</text>
<text x="208.6" y="248.6" font-size="11.8" text-anchor="middle">15</text>
<text x="262.4" y="248.6" font-size="11.8" text-anchor="middle">20</text>
<rect x="321.7" y="10.6" width="216.1" height="221.0" fill="none" stroke="#000" stroke-width="1.45"/>
<path d="M321.7 231.6 v3.7 M321.7 10.6 v-3.2 M375.7 231.6 v3.7 M375.7 10.6 v-3.2 M429.8 231.6 v3.7 M429.8 10.6 v-3.2 M483.8 231.6 v3.7 M483.8 10.6 v-3.2 M537.8 231.6 v3.7 M537.8 10.6 v-3.2 M321.7 231.6 h-3.7 M537.8 231.6 h3.2 M321.7 204.7 h-2.6 M537.8 204.7 h2.9 M321.7 189.0 h-2.6 M537.8 189.0 h2.9 M321.7 177.9 h-2.6 M537.8 177.9 h2.9 M321.7 169.2 h-2.6 M537.8 169.2 h2.9 M321.7 162.2 h-2.6 M537.8 162.2 h2.9 M321.7 156.2 h-2.6 M537.8 156.2 h2.9 M321.7 151.0 h-2.6 M537.8 151.0 h2.9 M321.7 146.5 h-2.6 M537.8 146.5 h2.9 M321.7 142.4 h-3.7 M537.8 142.4 h3.2 M321.7 115.5 h-2.6 M537.8 115.5 h2.9 M321.7 99.8 h-2.6 M537.8 99.8 h2.9 M321.7 88.7 h-2.6 M537.8 88.7 h2.9 M321.7 80.0 h-2.6 M537.8 80.0 h2.9 M321.7 73.0 h-2.6 M537.8 73.0 h2.9 M321.7 67.0 h-2.6 M537.8 67.0 h2.9 M321.7 61.8 h-2.6 M537.8 61.8 h2.9 M321.7 57.2 h-2.6 M537.8 57.2 h2.9 M321.7 53.2 h-3.7 M537.8 53.2 h3.2 M321.7 26.3 h-2.6 M537.8 26.3 h2.9 M321.7 10.6 h-3.7 M537.8 10.6 h3.2" stroke="#000" stroke-width="1.35" fill="none"/>
<text x="311.1" y="235.5" font-size="11.8" text-anchor="end">1</text>
<text x="311.1" y="146.3" font-size="11.8" text-anchor="end">10</text>
<text x="311.1" y="57.1" font-size="11.8" text-anchor="end">100</text>
<text x="311.1" y="14.4" font-size="13.0" text-anchor="end">300</text>
<text x="321.7" y="250.9" font-size="11.8" text-anchor="middle">0</text>
<text x="375.7" y="250.9" font-size="11.8" text-anchor="middle">5</text>
<text x="429.8" y="250.9" font-size="11.8" text-anchor="middle">10</text>
<text x="483.8" y="250.9" font-size="11.8" text-anchor="middle">15</text>
<text x="537.8" y="250.9" font-size="11.8" text-anchor="middle">20</text>
<text transform="translate(16.0 104.8) rotate(-90)" font-size="13" text-anchor="middle"><tspan font-style="italic">Q</tspan> (m<tspan font-size="8" dy="-4.5">3</tspan><tspan dy="4.5">/d)</tspan></text>
<text transform="translate(290.2 104.8) rotate(-90)" font-size="13" text-anchor="middle"><tspan font-style="italic">Q</tspan> (m<tspan font-size="8" dy="-4.5">3</tspan><tspan dy="4.5">/d)</tspan></text>
<text x="159.5" y="265.7" font-size="13" text-anchor="middle"><tspan font-style="italic">b</tspan> (m)</text>
<text x="435" y="265.8" font-size="13" text-anchor="middle"><tspan font-style="italic">b</tspan> (m)</text>
<text x="154.8" y="290.3" font-size="15" text-anchor="middle">(a)</text>
<text x="430.2" y="291.6" font-size="15" text-anchor="middle">(b)</text>
<text x="147.5" y="74" font-size="13" text-anchor="middle"><tspan font-style="italic">η</tspan>=1</text>
<text x="226" y="221.5" font-size="12.5" text-anchor="middle"><tspan font-style="italic">η</tspan>=0</text>
<text x="464.5" y="206" font-size="12.5" text-anchor="middle"><tspan font-style="italic">η</tspan>=0</text>
<circle cx="48.2" cy="114.8" r="3.3" fill="#f00000"/>
<circle cx="155.6" cy="115.2" r="3.3" fill="#f00000"/>
<circle cx="261.0" cy="114.6" r="3.3" fill="#f00000"/>
<text x="53.6" y="120.3" font-size="15.2">C00</text>
<text x="123.3" y="121" font-size="15.2">C01</text>
<text x="228" y="121" font-size="15.2">C02</text>
<circle cx="323.5" cy="115.6" r="3.3" fill="#f00000"/>
<circle cx="427.3" cy="115.6" r="3.3" fill="#f00000"/>
<circle cx="537.4" cy="115.3" r="3.3" fill="#f00000"/>
<text x="329.8" y="127.2" font-size="15.2">C10</text>
<text x="397.8" y="127.2" font-size="15.2">C11</text>
<text x="505.3" y="127.2" font-size="15.2">C12</text>
</svg></body></html>
